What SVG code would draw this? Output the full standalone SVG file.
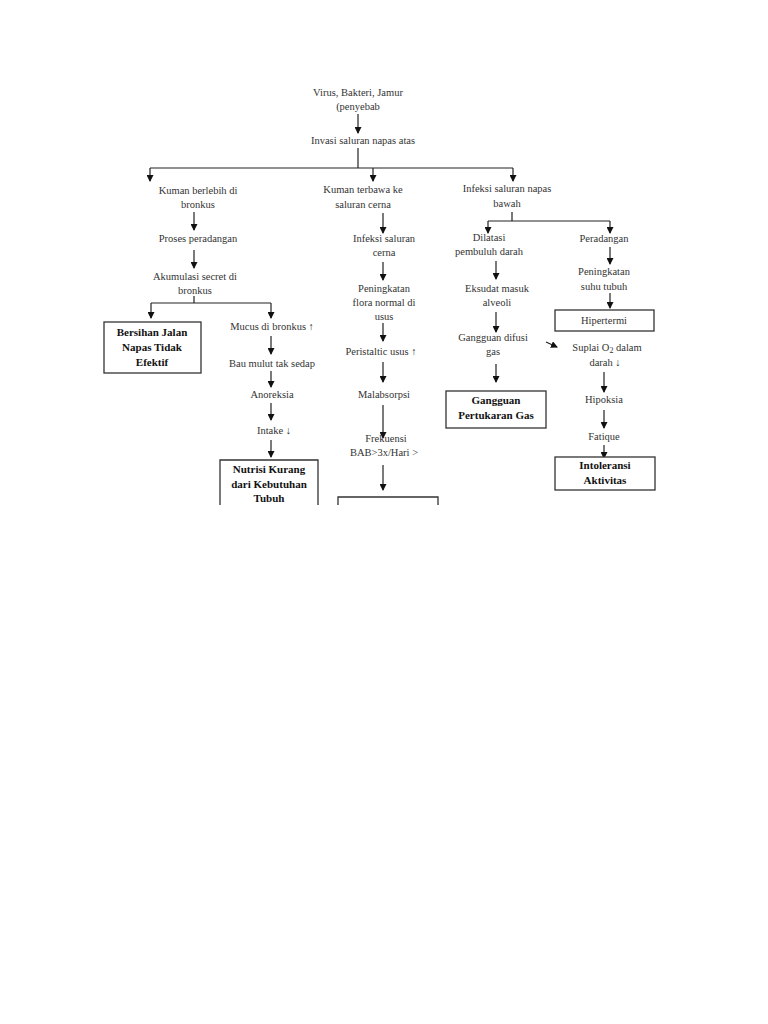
<svg xmlns="http://www.w3.org/2000/svg" width="768" height="1024" viewBox="0 0 768 1024">
<style>
text{font-family:"Liberation Serif",serif;font-size:10.5px;fill:#333;text-anchor:middle}
.b{font-weight:bold;font-size:11px;fill:#111}
.bx{fill:#fff;stroke:#333;stroke-width:1.3}
.c line,.c path{stroke:#222;stroke-width:1.2;fill:none}
</style>
<defs><marker id="a" markerWidth="7" markerHeight="7" refX="6" refY="3.5" orient="auto" markerUnits="userSpaceOnUse"><path d="M0,0L7,3.5L0,7z" fill="#111"/></marker></defs>
<rect width="768" height="1024" fill="#fff"/>
<g class="c">
<line x1="358" y1="114" x2="358" y2="133" marker-end="url(#a)"/>
<path d="M358,148V168"/><path d="M150,168H513"/>
<line x1="150" y1="168" x2="150" y2="181" marker-end="url(#a)"/>
<line x1="373" y1="168" x2="373" y2="181" marker-end="url(#a)"/>
<line x1="513" y1="168" x2="513" y2="181" marker-end="url(#a)"/>
<line x1="194" y1="212" x2="194" y2="230" marker-end="url(#a)"/>
<line x1="194" y1="250" x2="194" y2="268" marker-end="url(#a)"/>
<path d="M194,296V303M151,303H271"/>
<line x1="151" y1="303" x2="151" y2="318" marker-end="url(#a)"/>
<line x1="271" y1="303" x2="271" y2="318" marker-end="url(#a)"/>
<line x1="271" y1="336" x2="271" y2="354" marker-end="url(#a)"/>
<line x1="271" y1="371" x2="271" y2="387" marker-end="url(#a)"/>
<line x1="271" y1="403" x2="271" y2="420" marker-end="url(#a)"/>
<line x1="271" y1="440" x2="271" y2="457" marker-end="url(#a)"/>
<line x1="383" y1="213" x2="383" y2="233" marker-end="url(#a)"/>
<line x1="383" y1="262" x2="383" y2="280" marker-end="url(#a)"/>
<line x1="383" y1="323" x2="383" y2="341" marker-end="url(#a)"/>
<line x1="383" y1="362" x2="383" y2="382" marker-end="url(#a)"/>
<line x1="383" y1="405" x2="383" y2="438" marker-end="url(#a)"/>
<line x1="383" y1="465" x2="383" y2="490" marker-end="url(#a)"/>
<path d="M512,212V221M488,221H610"/>
<line x1="488" y1="221" x2="488" y2="233" marker-end="url(#a)"/>
<line x1="610" y1="221" x2="610" y2="233" marker-end="url(#a)"/>
<line x1="496" y1="261" x2="496" y2="279" marker-end="url(#a)"/>
<line x1="496" y1="312" x2="496" y2="332" marker-end="url(#a)"/>
<line x1="496" y1="364" x2="496" y2="382" marker-end="url(#a)"/>
<line x1="546" y1="342" x2="557" y2="347" marker-end="url(#a)"/>
<line x1="610" y1="247" x2="610" y2="264" marker-end="url(#a)"/>
<line x1="610" y1="293" x2="610" y2="308" marker-end="url(#a)"/>
<line x1="604" y1="372" x2="604" y2="392" marker-end="url(#a)"/>
<line x1="604" y1="410" x2="604" y2="428" marker-end="url(#a)"/>
<line x1="604" y1="445" x2="604" y2="458" marker-end="url(#a)"/>
</g>
<g id="n1"><text x="358" y="96">Virus, Bakteri, Jamur</text><text x="358" y="110">(penyebab</text></g>
<g id="n2"><text x="363" y="144">Invasi saluran napas atas</text></g>
<g id="n3"><text x="198" y="194">Kuman berlebih di</text><text x="198" y="208">bronkus</text></g>
<g id="n4"><text x="198" y="242">Proses peradangan</text></g>
<g id="n5"><text x="195" y="280">Akumulasi secret di</text><text x="195" y="294">bronkus</text></g>
<g id="n6"><rect class="bx" x="104" y="322" width="97" height="51"/><text class="b" x="152" y="336">Bersihan Jalan</text><text class="b" x="152" y="351">Napas Tidak</text><text class="b" x="152" y="366">Efektif</text></g>
<g id="n7"><text x="272" y="330">Mucus di bronkus ↑</text></g>
<g id="n8"><text x="272" y="367">Bau mulut tak sedap</text></g>
<g id="n9"><text x="272" y="398">Anoreksia</text></g>
<g id="n10"><text x="274" y="434">Intake ↓</text></g>
<g id="n11"><path class="bx" d="M220,505V460H318V505"/><text class="b" x="269" y="473">Nutrisi Kurang</text><text class="b" x="269" y="488">dari Kebutuhan</text><text class="b" x="269" y="502">Tubuh</text></g>
<g id="n12"><text x="363" y="193">Kuman terbawa ke</text><text x="363" y="208">saluran cerna</text></g>
<g id="n13"><text x="384" y="242">Infeksi saluran</text><text x="384" y="256">cerna</text></g>
<g id="n14"><text x="384" y="292">Peningkatan</text><text x="384" y="306">flora normal di</text><text x="384" y="320">usus</text></g>
<g id="n15"><text x="381" y="355">Peristaltic usus ↑</text></g>
<g id="n16"><text x="384" y="398">Malabsorpsi</text></g>
<g id="n17"><text x="386" y="442">Frekuensi</text><text x="384" y="456">BAB&gt;3x/Hari  &gt;</text></g>
<g id="n18"><path class="bx" d="M338,505V497H438V505"/></g>
<g id="n19"><text x="507" y="192">Infeksi saluran napas</text><text x="507" y="207">bawah</text></g>
<g id="n20"><text x="489" y="241">Dilatasi</text><text x="489" y="255">pembuluh darah</text></g>
<g id="n21"><text x="497" y="292">Eksudat masuk</text><text x="497" y="306">alveoli</text></g>
<g id="n22"><text x="493" y="341">Gangguan difusi</text><text x="493" y="355">gas</text></g>
<g id="n23"><rect class="bx" x="446" y="391" width="100" height="37"/><text class="b" x="496" y="404">Gangguan</text><text class="b" x="496" y="419">Pertukaran Gas</text></g>
<g id="n24"><text x="604" y="242">Peradangan</text></g>
<g id="n25"><text x="604" y="275">Peningkatan</text><text x="604" y="290">suhu tubuh</text></g>
<g id="n26"><rect class="bx" x="555" y="310" width="99" height="21"/><text x="604" y="324">Hipertermi</text></g>
<g id="n27"><text x="607" y="351">Suplai O<tspan font-size="8" dy="2">2</tspan><tspan dy="-2"> dalam</tspan></text><text x="605" y="366">darah ↓</text></g>
<g id="n28"><text x="604" y="403">Hipoksia</text></g>
<g id="n29"><text x="604" y="440">Fatique</text></g>
<g id="n30"><rect class="bx" x="555" y="457" width="100" height="33"/><text class="b" x="605" y="469">Intoleransi</text><text class="b" x="605" y="484">Aktivitas</text></g>
</svg>
